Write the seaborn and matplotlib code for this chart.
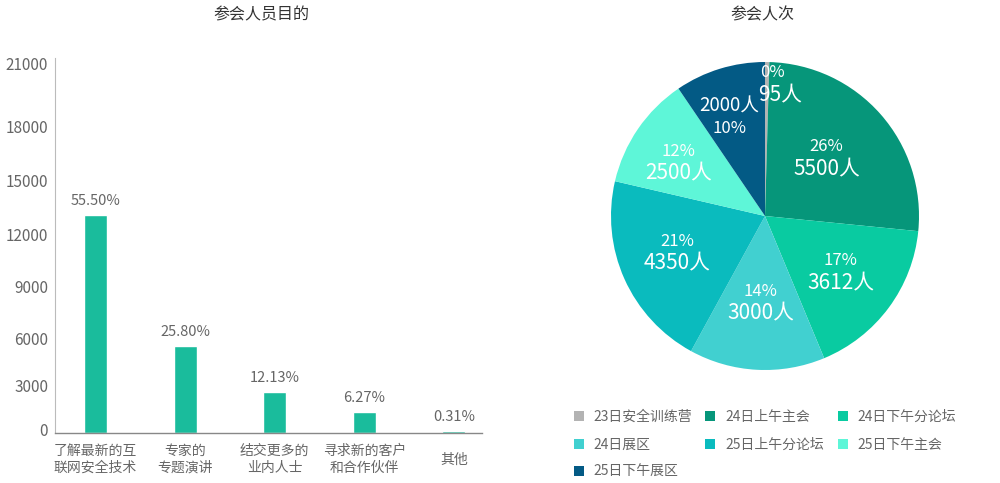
import numpy as np
import matplotlib
matplotlib.use("Agg")
import matplotlib.pyplot as plt
import matplotlib.transforms as mtransforms
from matplotlib.lines import Line2D
import seaborn as sns

# ---------------------------------------------------------------------------
# 数据
# ---------------------------------------------------------------------------
purpose_labels = ["了解最新的互\n联网安全技术", "专家的\n专题演讲", "结交更多的\n业内人士",
                  "寻求新的客户\n和合作伙伴", "其他"]
purpose_values = [13300, 5750, 2800, 1430, 130]
purpose_pct = ["55.50%", "25.80%", "12.13%", "6.27%", "0.31%"]
y_ticks = [0, 3000, 6000, 9000, 12000, 15000, 18000, 21000]

session_names = ["23日安全训练营", "24日上午主会", "24日下午分论坛", "24日展区",
                 "25日上午分论坛", "25日下午主会", "25日下午展区"]
session_counts = [95, 5500, 3612, 3000, 4350, 2500, 2000]
session_pct = ["0%", "26%", "17%", "14%", "21%", "12%", "10%"]

session_colors = ["#B3B3B3", "#06967A", "#09CBA1", "#41D0D0", "#0ABBBE", "#5EF6D8", "#035A85"]
bar_color = "#1ABC9C"
text_grey = "#666666"

sns.set_theme(style="white")
plt.rcParams["font.family"] = ["Noto Sans CJK SC", "DejaVu Sans"]

fig = plt.figure(figsize=(10, 4.83), dpi=100)

# ---------------------------------------------------------------------------
# 左图: 参会人员目的 (柱状图)
# ---------------------------------------------------------------------------
ax = fig.add_axes([0.055, 0.1035, 0.427, 0.776])
sns.barplot(x=list(range(len(purpose_values))), y=purpose_values, color=bar_color,
            width=0.257, saturation=1, ax=ax)

# 原图的纵轴刻度间距不均匀, 用分段线性的刻度映射还原
scale_vals = [0, 3000, 6000, 9000, 12000, 15000, 18000, 21000, 24000]
scale_px = [0, 44, 91, 143, 195, 249, 303, 366, 429]
ax.set_yscale("function", functions=(lambda v: np.interp(v, scale_vals, scale_px),
                                     lambda p: np.interp(p, scale_px, scale_vals)))
ax.set_ylim(0, np.interp(375, scale_px, scale_vals))
ax.set_xlim(-0.452, 4.314)
ax.set_yticks(y_ticks)
ax.set_yticklabels([str(t) for t in y_ticks])
ax.set_xticks(range(len(purpose_labels)))
ax.set_xticklabels(purpose_labels, linespacing=1.25)
ax.tick_params(axis="y", length=0, pad=5, labelsize=11, labelcolor=text_grey)
ax.tick_params(axis="x", length=0, pad=19, labelsize=10, labelcolor=text_grey)
for lab in ax.get_xticklabels():
    lab.set_va("center")
# 纵轴标签略高于刻度位置
lift = mtransforms.ScaledTranslation(0, 3.5 / 100, fig.dpi_scale_trans)
for lab in ax.get_yticklabels():
    lab.set_transform(lab.get_transform() + lift)
ax.minorticks_off()
ax.set_xlabel("")
ax.set_ylabel("")

for s in ["top", "right"]:
    ax.spines[s].set_visible(False)
ax.spines["left"].set_color("#BBBBBB")
ax.spines["bottom"].set_color("#888888")
ax.spines["left"].set_linewidth(0.8)
ax.spines["bottom"].set_linewidth(1.0)

ax.bar_label(ax.containers[0], labels=purpose_pct, padding=5, fontsize=10.5, color=text_grey)

fig.text(0.261, 1 - 15 / 483, "参会人员目的", ha="center", va="center", fontsize=11.5, color="#333333")

# ---------------------------------------------------------------------------
# 右图: 参会人次 (饼图)
# ---------------------------------------------------------------------------
cx, cy, r = 765, 216, 154
ax2 = fig.add_axes([(cx - r) / 1000, (483 - cy - r) / 483, 2 * r / 1000, 2 * r / 483])
wedges, _ = ax2.pie(session_counts, colors=session_colors, startangle=90, counterclock=False,
                    wedgeprops=dict(linewidth=0))
ax2.set_xlim(-1, 1)
ax2.set_ylim(-1, 1)
ax2.set_aspect("equal")
ax2.axis("off")

label_radius = [0.86, 0.55, 0.61, 0.56, 0.62, 0.66, 0.68]
label_nudge = [-4, 2, 0, 0, -1.5, 2.5, 3]  # 标签角度微调 (度)
total = sum(session_counts)
start = 90.0
for i, (cnt, pct) in enumerate(zip(session_counts, session_pct)):
    span = 360.0 * cnt / total
    mid = np.deg2rad(start - span / 2 + label_nudge[i])
    start -= span
    x, y = label_radius[i] * np.cos(mid), label_radius[i] * np.sin(mid)
    top_txt, bot_txt = pct, f"{cnt}人"
    top_size, bot_size = 12, 15
    top_dx, bot_dx = 0, 0
    if i == 0:
        top_dx, bot_dx = -3, 3
    if i == len(session_counts) - 1:
        top_txt, bot_txt = f"{cnt}人", pct
        top_size, bot_size = 13.5, 12
    ax2.annotate(top_txt, (x, y), xytext=(top_dx, 8), textcoords="offset points",
                 ha="center", va="center", color="white", fontsize=top_size)
    ax2.annotate(bot_txt, (x, y), xytext=(bot_dx, -8), textcoords="offset points",
                 ha="center", va="center", color="white", fontsize=bot_size)

fig.text(0.762, 1 - 15 / 483, "参会人次", ha="center", va="center", fontsize=11.5, color="#333333")

# 图例按行排列 (matplotlib 按列填充, 先重排)
order = [0, 3, 6, 1, 4, 2, 5]
handles = [Line2D([], [], marker="s", linestyle="none", markersize=7.5,
                  markerfacecolor=session_colors[i], markeredgewidth=0) for i in order]
labels = [session_names[i] for i in order]
fig.legend(handles, labels, ncol=3, loc="upper left", bbox_to_anchor=(0.566, 1 - 403 / 483),
           frameon=False, fontsize=10, handlelength=0.8, handletextpad=0.7,
           columnspacing=0.9, labelspacing=0.98, borderpad=0, labelcolor=text_grey)

fig.savefig("out.png", dpi=100)
